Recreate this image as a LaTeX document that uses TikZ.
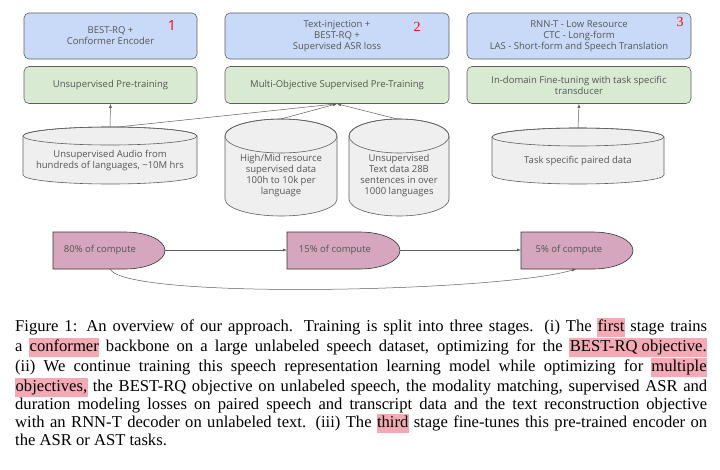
\documentclass[tikz,border=0pt]{standalone}
\usepackage{fontspec}
\setmainfont{Liberation Serif}
\newfontfamily\diag{Open Sans}
\usetikzlibrary{arrows.meta}
\definecolor{bluef}{RGB}{201,218,248}
\definecolor{greenf}{RGB}{217,234,211}
\definecolor{grayf}{RGB}{239,239,239}
\definecolor{pinkf}{RGB}{213,166,189}
\definecolor{txt}{RGB}{85,85,85}
\definecolor{edge}{RGB}{95,95,95}
\definecolor{hlpink}{RGB}{244,170,180}
\newcommand\hlw[1]{\begingroup\setlength{\fboxsep}{0.5pt}\hspace{-0.5pt}\colorbox{hlpink}{\strut #1}\hspace{-0.5pt}\endgroup}
\newcommand\mycyl[5]{% cx, ytop, rx, ry, ybottom
  \filldraw[fill=grayf,draw=edge,line width=0.6pt] (#1-#3,#2) -- (#1-#3,#5) arc[start angle=180,end angle=0,x radius=#3,y radius=#4] -- (#1+#3,#2) arc[start angle=0,end angle=-180,x radius=#3,y radius=#4] -- cycle;
  \draw[edge,line width=0.6pt] (#1,#2) ellipse[x radius=#3,y radius=#4];}
\newcommand\mycomp[5]{% x0, xm, rx, top, bot
  \filldraw[fill=pinkf,draw=black!80,line width=0.6pt] (#1,#4) -- (#2,#4) arc[start angle=-90,end angle=90,x radius=#3,y radius={(#5-#4)/2}] -- (#1,#5) -- cycle;}
\begin{document}
\begin{tikzpicture}[x=1pt,y=-1pt,
  box/.style={draw=edge,line width=0.6pt,rounded corners=5pt,font=\diag\fontsize{9.5}{11}\selectfont,text=txt,align=center,inner sep=0pt},
  lab/.style={font=\diag\fontsize{9.5}{11}\selectfont,text=txt,align=center},
  arr/.style={-{Latex[length=4pt,width=3pt]},edge,line width=0.5pt}]
\useasboundingbox[fill=white] (0,0) rectangle (720,469);
% blue boxes
\node[box,fill=bluef,minimum width=173pt,minimum height=46pt] (b1) at (110.5,36) {BEST-RQ +\\Conformer Encoder};
\node[box,fill=bluef,minimum width=224pt,minimum height=46pt] (b2) at (337,36) {Text-injection +\\BEST-RQ +\\Supervised ASR loss};
\node[box,fill=bluef,minimum width=224pt,minimum height=46pt] (b3) at (579,36) {RNN-T - Low Resource\\CTC - Long-form\\LAS - Short-form and Speech Translation};
\node[text=red,font=\diag\fontsize{14}{14}\selectfont] (n1) at (172,26) {1};
\node[text=red,font=\fontsize{14}{14}\selectfont] (n2) at (417,27) {2};
\node[text=red,font=\fontsize{14}{14}\selectfont] (n3) at (680,22) {3};
% green boxes
\node[box,fill=greenf,minimum width=173pt,minimum height=37pt] (g1) at (110.5,85) {Unsupervised Pre-training};
\node[box,fill=greenf,minimum width=224pt,minimum height=37pt] (g2) at (337,85) {Multi-Objective Supervised Pre-Training};
\node[box,fill=greenf,minimum width=224pt,minimum height=37pt] (g3) at (579,85) {In-domain Fine-tuning with task specific\\transducer};
% cylinders
\mycyl{110}{136}{87}{9}{175}
\node[lab] (d1) at (110,161) {Unsupervised Audio from\\hundreds of languages, \textasciitilde10M hrs};
\coordinate (d1t) at (110,127);
\coordinate (d1u) at (118,127);
\mycyl{281}{136}{56}{17}{199}
\node[lab] (d2) at (281,176) {High/Mid resource\\supervised data\\100h to 10k per\\language};
\coordinate (d2t) at (281,119);
\mycyl{399}{136}{50}{17}{199}
\node[lab] (d3) at (399,176) {Unsupervised\\Text data 28B\\sentences in over\\1000 languages};
\coordinate (d3t) at (397,119);
\mycyl{578}{137}{86}{9}{175}
\node[lab] (d4) at (578,161) {Task specific paired data};
\coordinate (d4t) at (578,128);
\draw[arr] (d1t) -- (g1.south);
\draw[arr] (d1u) -- (g2.south);
\draw[arr] (d2t) -- (g2.south);
\draw[arr] (d3t) -- (g2.south);
\draw[arr] (d4t) -- (g3.south);
% compute shapes
\mycomp{53}{125}{40}{232}{269}
\node[lab] (c1) at (100,250) {80\% of compute};
\mycomp{287}{360}{40}{232}{269}
\node[lab] (c2) at (335,250) {15\% of compute};
\mycomp{521}{593}{40}{232}{269}
\node[lab] (c3) at (569,250) {5\% of compute};
\coordinate (c1r) at (165,250);
\coordinate (c2l) at (287,250);
\coordinate (c2r) at (400,250);
\coordinate (c3l) at (521,250);
\coordinate (c1b) at (110,269);
\coordinate (c3b) at (576,269);
\draw[arr] (c1r) -- (c2l);
\draw[arr] (c2r) -- (c3l);
\draw[arr] (c1b) .. controls (125,300) and (500,292) .. (c3b);
% caption
\node[anchor=north west,inner sep=0pt,align=justify,text width=692pt,font=\fontsize{16.6}{18}\selectfont] (cap) at (15,318) {Figure 1: An overview of our approach. Training is split into three stages. (i) The \hlw{first} stage trains\linebreak a \hlw{conformer} backbone on a large unlabeled speech dataset, optimizing for the \hlw{BEST-RQ objective.}\linebreak (ii) We continue training this speech representation learning model while optimizing for \hlw{multiple}\linebreak \hlw{objectives,} the BEST-RQ objective on unlabeled speech, the modality matching, supervised ASR and\linebreak duration modeling losses on paired speech and transcript data and the text reconstruction objective\linebreak with an RNN-T decoder on unlabeled text. (iii) The \hlw{third} stage fine-tunes this pre-trained encoder on\linebreak the ASR or AST tasks.};
\end{tikzpicture}
\end{document}
